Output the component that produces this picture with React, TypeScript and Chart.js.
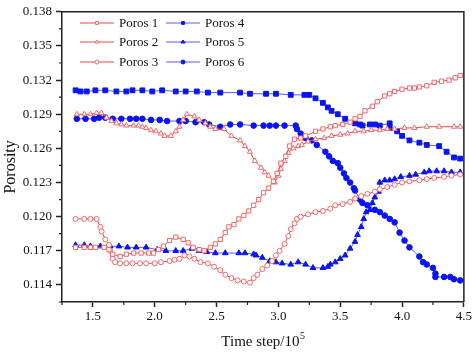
import React, { useEffect, useRef } from "react";
import { Chart, registerables } from "chart.js";

Chart.register(...registerables);

const FONT = "'Liberation Serif', 'Times New Roman', serif";

// Tick values
const xMajorTicks = [1.5, 2.0, 2.5, 3.0, 3.5, 4.0, 4.5];
const xMinorTicks = [1.25, 1.75, 2.25, 2.75, 3.25, 3.75, 4.25];
const yMajorTicks = [0.114, 0.117, 0.12, 0.123, 0.126, 0.129, 0.132, 0.135, 0.138];
const yMinorTicks = [0.1125, 0.1155, 0.1185, 0.1215, 0.1245, 0.1275, 0.1305, 0.1335, 0.1365];

const seriesNames = ["Poros 1", "Poros 2", "Poros 3", "Poros 4", "Poros 5", "Poros 6"];

// Poros 1 (open squares)
const p1T = [1.36,1.43,1.48,1.52,1.59,1.63,1.66,1.72,1.77,1.83,1.89,1.95,1.99,2.03,2.07,2.12,2.17,2.23,2.27,2.31,2.36,2.40,2.45,2.49,2.53,2.57,2.60,2.64,2.68,2.72,2.76,2.80,2.84,2.88,2.92,2.96,2.99,3.02,3.06,3.09,3.13,3.18,3.22,3.30,3.36,3.42,3.46,3.52,3.58,3.62,3.66,3.70,3.76,3.80,3.86,3.90,3.94,4.00,4.06,4.10,4.14,4.20,4.26,4.32,4.38,4.43,4.47];
const p1V = [0.1173,0.1173,0.1173,0.1173,0.1173,0.1171,0.1167,0.1165,0.1167,0.1168,0.1168,0.1168,0.1168,0.1171,0.1174,0.1179,0.1182,0.1180,0.1177,0.1173,0.1171,0.1170,0.1173,0.1176,0.1180,0.1186,0.1191,0.1193,0.1198,0.1201,0.1205,0.1210,0.1215,0.1221,0.1225,0.1231,0.1238,0.1247,0.1253,0.1262,0.1268,0.1269,0.1271,0.1275,0.1277,0.1279,0.1280,0.1281,0.1283,0.1286,0.1288,0.1293,0.1297,0.1301,0.1306,0.1308,0.1310,0.1312,0.1313,0.1313,0.1314,0.1315,0.1318,0.1319,0.1320,0.1322,0.1324];

// Poros 2 (open triangles)
const p2T = [1.37,1.43,1.48,1.53,1.57,1.61,1.65,1.69,1.73,1.77,1.83,1.87,1.90,1.93,1.97,2.01,2.05,2.08,2.13,2.17,2.20,2.23,2.26,2.32,2.36,2.41,2.45,2.49,2.56,2.62,2.69,2.73,2.77,2.81,2.86,2.89,2.92,2.96,2.97,3.00,3.02,3.05,3.08,3.12,3.16,3.19,3.24,3.30,3.37,3.43,3.50,3.56,3.62,3.69,3.75,3.82,3.88,3.94,4.02,4.10,4.20,4.30,4.42,4.47];
const p2V = [0.1290,0.1290,0.1290,0.1291,0.1291,0.1287,0.1284,0.1282,0.1281,0.1280,0.1280,0.1280,0.1279,0.1278,0.1276,0.1275,0.1273,0.1271,0.1271,0.1275,0.1279,0.1285,0.1290,0.1288,0.1285,0.1282,0.1279,0.1277,0.1277,0.1271,0.1267,0.1262,0.1257,0.1249,0.1243,0.1239,0.1236,0.1231,0.1230,0.1236,0.1242,0.1249,0.1256,0.1260,0.1262,0.1263,0.1266,0.1268,0.1269,0.1271,0.1272,0.1273,0.1275,0.1275,0.1276,0.1276,0.1277,0.1277,0.1278,0.1278,0.1279,0.1279,0.1279,0.1279];

// Poros 3 (open circles)
const p3T = [1.36,1.43,1.48,1.53,1.56,1.57,1.60,1.63,1.64,1.66,1.68,1.72,1.77,1.82,1.88,1.93,2.00,2.05,2.12,2.16,2.20,2.24,2.28,2.32,2.37,2.43,2.48,2.53,2.57,2.62,2.67,2.72,2.77,2.80,2.83,2.87,2.91,2.95,2.98,3.01,3.05,3.08,3.10,3.13,3.15,3.18,3.24,3.30,3.36,3.42,3.46,3.52,3.58,3.62,3.67,3.72,3.78,3.82,3.88,3.94,4.00,4.06,4.14,4.20,4.26,4.34,4.40,4.47];
const p3V = [0.1198,0.1198,0.1198,0.1198,0.1191,0.1187,0.1180,0.1175,0.1170,0.1163,0.1160,0.1159,0.1159,0.1159,0.1159,0.1159,0.1159,0.1160,0.1161,0.1162,0.1163,0.1166,0.1165,0.1163,0.1160,0.1159,0.1156,0.1153,0.1149,0.1146,0.1144,0.1143,0.1142,0.1146,0.1149,0.1154,0.1157,0.1161,0.1166,0.1170,0.1176,0.1183,0.1189,0.1194,0.1198,0.1200,0.1202,0.1204,0.1205,0.1207,0.1210,0.1211,0.1213,0.1216,0.1218,0.1220,0.1222,0.1224,0.1226,0.1228,0.1230,0.1231,0.1232,0.1233,0.1234,0.1235,0.1236,0.1237];

// Poros 4 (filled squares)
const p4T = [1.36,1.40,1.45,1.52,1.60,1.69,1.77,1.82,1.90,1.98,2.06,2.17,2.25,2.34,2.43,2.53,2.69,2.77,2.90,2.98,3.10,3.21,3.25,3.30,3.36,3.40,3.43,3.48,3.54,3.62,3.66,3.68,3.74,3.78,3.82,3.90,3.90,3.96,4.00,4.06,4.14,4.20,4.30,4.36,4.42,4.47];
const p4V = [0.1311,0.1310,0.1310,0.1311,0.1311,0.1310,0.1310,0.1311,0.1311,0.1310,0.1311,0.1310,0.1310,0.1310,0.1309,0.1309,0.1309,0.1308,0.1308,0.1308,0.1307,0.1307,0.1307,0.1304,0.1300,0.1296,0.1293,0.1290,0.1286,0.1282,0.1281,0.1280,0.1281,0.1281,0.1280,0.1282,0.1278,0.1275,0.1271,0.1267,0.1265,0.1263,0.1262,0.1257,0.1252,0.1251];

// Poros 5 (filled triangles)
const p5T = [1.36,1.43,1.48,1.56,1.64,1.71,1.78,1.85,1.93,2.02,2.09,2.17,2.23,2.30,2.36,2.42,2.49,2.57,2.68,2.73,2.80,2.82,2.87,2.93,2.98,3.03,3.10,3.16,3.22,3.28,3.36,3.40,3.42,3.46,3.50,3.54,3.58,3.62,3.64,3.67,3.69,3.71,3.74,3.76,3.78,3.81,3.82,3.86,3.90,3.94,3.99,4.06,4.11,4.18,4.22,4.28,4.34,4.40,4.47];
const p5V = [0.1175,0.1175,0.1174,0.1174,0.1174,0.1174,0.1173,0.1173,0.1173,0.1171,0.1170,0.1170,0.1170,0.1172,0.1170,0.1169,0.1168,0.1168,0.1168,0.1168,0.1167,0.1166,0.1164,0.1161,0.1160,0.1159,0.1158,0.1160,0.1158,0.1155,0.1155,0.1156,0.1158,0.1160,0.1163,0.1166,0.1172,0.1178,0.1184,0.1191,0.1198,0.1204,0.1206,0.1212,0.1217,0.1222,0.1230,0.1232,0.1232,0.1233,0.1235,0.1236,0.1237,0.1239,0.1240,0.1240,0.1240,0.1239,0.1239];

// Poros 6 (filled circles)
const p6T = [1.37,1.44,1.51,1.55,1.60,1.66,1.73,1.80,1.85,1.90,1.97,2.04,2.10,2.20,2.25,2.33,2.40,2.44,2.53,2.61,2.69,2.80,2.88,2.93,2.98,3.05,3.14,3.15,3.18,3.22,3.27,3.31,3.38,3.41,3.44,3.48,3.50,3.53,3.55,3.58,3.61,3.62,3.66,3.68,3.72,3.78,3.82,3.86,3.90,3.94,3.98,4.02,4.06,4.14,4.17,4.20,4.25,4.27,4.27,4.34,4.39,4.42,4.47];
const p6V = [0.1286,0.1286,0.1286,0.1287,0.1287,0.1286,0.1286,0.1286,0.1286,0.1286,0.1285,0.1285,0.1284,0.1284,0.1284,0.1283,0.1283,0.1281,0.1279,0.1281,0.1281,0.1280,0.1280,0.1280,0.1280,0.1280,0.1280,0.1277,0.1273,0.1269,0.1267,0.1263,0.1257,0.1253,0.1249,0.1247,0.1243,0.1238,0.1234,0.1230,0.1225,0.1223,0.1215,0.1212,0.1210,0.1206,0.1204,0.1201,0.1198,0.1195,0.1186,0.1179,0.1173,0.1165,0.1160,0.1158,0.1155,0.1150,0.1147,0.1147,0.1147,0.1145,0.1144];

const RED_LINE = "#e64b4b";
const RED_MARK = "#f06a6a";
const BLUE_LINE = "#5a5cff";
const BLUE_MARK = "#0a14f0";

const zip = (t: number[], v: number[]) => {
  const n = Math.min(t.length, v.length);
  const out: { x: number; y: number }[] = [];
  for (let i = 0; i < n; i++) out.push({ x: t[i], y: v[i] });
  return out;
};

const drawMarker = (ctx: CanvasRenderingContext2D, style: string, x: number, y: number, r: number, fill: string, stroke: string) => {
  ctx.save();
  ctx.beginPath();
  if (style === "circle") {
    ctx.arc(x, y, r, 0, Math.PI * 2);
  } else if (style === "rect") {
    const s = r * Math.SQRT1_2;
    ctx.rect(x - s, y - s, 2 * s, 2 * s);
  } else {
    const h = r * 1.5;
    ctx.moveTo(x, y - r);
    ctx.lineTo(x + (h / Math.sqrt(3)) * 1.0 + r * 0.2, y + r * 0.5);
    ctx.lineTo(x - (h / Math.sqrt(3)) * 1.0 - r * 0.2, y + r * 0.5);
    ctx.closePath();
  }
  ctx.fillStyle = fill;
  ctx.fill();
  ctx.strokeStyle = stroke;
  ctx.lineWidth = 1;
  ctx.stroke();
  ctx.restore();
};

const decorPlugin = {
  id: "decor",
  afterDraw(chart: any) {
    const { ctx, chartArea, scales } = chart;
    const { left, right, top, bottom } = chartArea;
    ctx.save();
    // frame top & right
    ctx.strokeStyle = "#222";
    ctx.lineWidth = 1.5;
    ctx.beginPath();
    ctx.moveTo(left, top);
    ctx.lineTo(right, top);
    ctx.lineTo(right, bottom);
    ctx.stroke();
    // minor ticks
    ctx.lineWidth = 1.2;
    ctx.beginPath();
    for (const v of xMinorTicks) {
      const px = scales.x.getPixelForValue(v);
      ctx.moveTo(px, bottom);
      ctx.lineTo(px, bottom + 3);
    }
    for (const v of yMinorTicks) {
      const py = scales.y.getPixelForValue(v);
      ctx.moveTo(left, py);
      ctx.lineTo(left - 3, py);
    }
    ctx.stroke();

    // axis titles
    ctx.fillStyle = "#111";
    ctx.font = `15px ${FONT}`;
    ctx.textBaseline = "alphabetic";
    const main = "Time step/10";
    const sup = "5";
    const wMain = ctx.measureText(main).width;
    ctx.font = `10px ${FONT}`;
    const wSup = ctx.measureText(sup).width;
    const cx = (left + right) / 2;
    const sx = cx - (wMain + wSup) / 2;
    ctx.font = `15px ${FONT}`;
    ctx.textAlign = "left";
    ctx.fillText(main, sx, 346);
    ctx.font = `10px ${FONT}`;
    ctx.fillText(sup, sx + wMain + 0.5, 339);

    ctx.save();
    ctx.translate(15, (top + bottom) / 2 + 10);
    ctx.rotate(-Math.PI / 2);
    ctx.font = `16px ${FONT}`;
    ctx.textAlign = "center";
    ctx.fillText("Porosity", 0, 0);
    ctx.restore();

    // legend
    const ds = chart.data.datasets;
    const cols = [
      { lx: 80, tx: 119 },
      { lx: 166, tx: 205 },
    ];
    const rows = [23, 42, 62];
    ctx.font = `13px ${FONT}`;
    ctx.textAlign = "left";
    ctx.textBaseline = "middle";
    ds.forEach((d: any, i: number) => {
      const c = cols[Math.floor(i / 3)];
      const y = rows[i % 3];
      ctx.strokeStyle = d.borderColor;
      ctx.lineWidth = 1;
      ctx.beginPath();
      ctx.moveTo(c.lx, y);
      ctx.lineTo(c.lx + 34, y);
      ctx.stroke();
      drawMarker(ctx, d.pointStyle, c.lx + 17, y, 2, d.pointBackgroundColor, d.pointBorderColor);
      ctx.fillStyle = "#111";
      ctx.fillText(seriesNames[i], c.tx, y + 1);
    });
    ctx.restore();
  },
};

export default function App() {
  const ref = useRef<HTMLCanvasElement | null>(null);
  useEffect(() => {
    if (!ref.current) return;
    const mk = (i: number, t: number[], v: number[], red: boolean, style: string, r: number, filled: boolean) => ({
      label: seriesNames[i],
      data: zip(t, v),
      showLine: true,
      borderColor: red ? RED_LINE : BLUE_LINE,
      borderWidth: 1,
      pointStyle: style,
      pointRadius: r,
      pointBorderWidth: 1,
      pointBorderColor: red ? RED_MARK : BLUE_MARK,
      pointBackgroundColor: filled ? BLUE_MARK : "#ffffff",
      tension: 0,
    });
    const chart = new Chart(ref.current, {
      type: "scatter",
      data: {
        datasets: [
          mk(0, p1T, p1V, true, "rect", 3, false),
          mk(1, p2T, p2V, true, "triangle", 3, false),
          mk(2, p3T, p3V, true, "circle", 2.5, false),
          mk(3, p4T, p4V, false, "rect", 3.4, true),
          mk(4, p5T, p5V, false, "triangle", 3.3, true),
          mk(5, p6T, p6V, false, "circle", 2.8, true),
        ] as any,
      },
      options: {
        animation: false,
        responsive: false,
        devicePixelRatio: 1,
        layout: { padding: { top: 6, right: 8, left: 0, bottom: 0 } },
        plugins: { legend: { display: false }, tooltip: { enabled: false } },
        scales: {
          x: {
            type: "linear",
            min: 1.25,
            max: 4.5,
            afterBuildTicks: (s: any) => {
              s.ticks = xMajorTicks.map((v) => ({ value: v }));
            },
            afterFit: (s: any) => {
              s.height = 51;
            },
            ticks: {
              callback: (v: any) => Number(v).toFixed(1),
              font: { family: FONT, size: 13 },
              color: "#111",
              padding: 2,
              maxRotation: 0,
              autoSkip: false,
            },
            grid: { drawOnChartArea: false, drawTicks: true, tickLength: 5, tickColor: "#222", tickWidth: 1.5 },
            border: { display: true, color: "#222", width: 1.5 },
          },
          y: {
            type: "linear",
            min: 0.1125,
            max: 0.138,
            afterBuildTicks: (s: any) => {
              s.ticks = yMajorTicks.map((v) => ({ value: v }));
            },
            afterFit: (s: any) => {
              s.width = 62;
            },
            ticks: {
              callback: (v: any) => Number(v).toFixed(3),
              font: { family: FONT, size: 13 },
              color: "#111",
              padding: 4,
              autoSkip: false,
            },
            grid: { drawOnChartArea: false, drawTicks: true, tickLength: 6, tickColor: "#222", tickWidth: 1.5 },
            border: { display: true, color: "#222", width: 1.5 },
          },
        },
      } as any,
      plugins: [decorPlugin],
    });
    return () => chart.destroy();
  }, []);
  return (
    <div style={{ position: "fixed", left: 0, top: 0, width: 474, height: 353, background: "#fff" }}>
      <canvas ref={ref} width={474} height={353} style={{ width: 474, height: 353, display: "block" }} />
    </div>
  );
}
